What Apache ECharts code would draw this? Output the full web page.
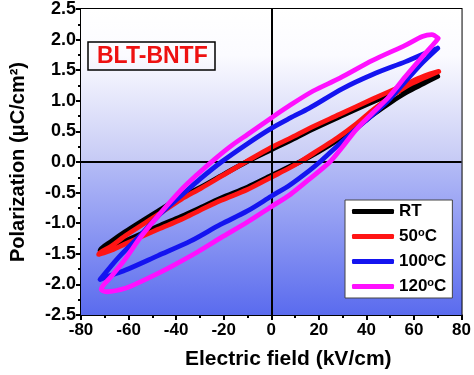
<!DOCTYPE html>
<html>
<head>
<meta charset="utf-8">
<script src="https://cdn.jsdelivr.net/npm/echarts@6/dist/echarts.min.js"></script>
<style>
  html, body { margin: 0; padding: 0; background: #fff; }
  #chart { width: 474px; height: 375px; }
</style>
</head>
<body>
<div id="chart"></div>
<script>
// P-E loops, each as upper branch (+tip -> -tip) then lower branch (-tip -> +tip)
const seriesNames = ["RT", "50°C", "100°C", "120°C"];
const seriesColors = ["#000000", "#ff1414", "#1414f0", "#ff10ff"];

const rtUpper = [[70,1.40],[64,1.31],[56.5,1.20],[42.6,0.98],[28.8,0.74],[16,0.51],[8,0.35],[0,0.20],[-10.5,0],[-20,-0.20],[-29.6,-0.41],[-37.9,-0.57],[-47.6,-0.80],[-61.5,-1.14],[-67,-1.29],[-72,-1.45]];
const rtLower = [[-72,-1.46],[-67,-1.38],[-61.5,-1.29],[-47.6,-1.05],[-37.9,-0.89],[-30,-0.75],[-21.3,-0.59],[-10,-0.41],[0,-0.22],[8,-0.07],[12,0],[20,0.17],[28,0.36],[36,0.57],[43,0.78],[50,0.97],[57,1.14],[64,1.28],[70,1.40]];

const t50Upper = [[70.4,1.48],[64,1.40],[56.5,1.27],[42.6,1.03],[28.8,0.78],[16,0.55],[8,0.39],[0,0.24],[-10.8,0],[-20,-0.21],[-29.6,-0.43],[-37.9,-0.61],[-47.6,-0.86],[-61.5,-1.21],[-67,-1.37],[-72.6,-1.51]];
const t50Lower = [[-72.6,-1.52],[-67,-1.44],[-61.5,-1.34],[-47.6,-1.10],[-37.9,-0.94],[-30,-0.79],[-21.3,-0.63],[-10,-0.45],[0,-0.25],[8,-0.09],[12,0],[20,0.20],[28,0.40],[36,0.63],[43,0.86],[50,1.06],[57,1.24],[64,1.37],[70.4,1.48]];

const t100Upper = [[70,1.86],[65,1.78],[56.5,1.64],[42.6,1.43],[30,1.20],[16,0.88],[8,0.72],[0,0.55],[-10,0.30],[-21,0],[-30,-0.28],[-37.9,-0.55],[-47,-0.86],[-54.6,-1.18],[-64,-1.55],[-72,-1.92]];
const t100Lower = [[-72,-1.92],[-68,-1.86],[-61.5,-1.77],[-47.6,-1.53],[-33.8,-1.29],[-21.3,-1.02],[-10,-0.80],[0,-0.56],[8,-0.37],[16,-0.14],[21,0.02],[28,0.27],[35.7,0.54],[42.6,0.77],[49.6,1.02],[56.5,1.32],[63.5,1.62],[70,1.86]];

const t120Upper = [[70.2,2.02],[67.5,2.08],[63.5,2.05],[56.5,1.91],[42.6,1.66],[28.8,1.37],[17.6,1.16],[8,0.93],[0,0.72],[-10,0.45],[-17,0.26],[-24,0.04],[-31,-0.20],[-38,-0.46],[-47.6,-0.88],[-54.6,-1.21],[-61.5,-1.59],[-67,-1.86],[-71.5,-2.08]];
const t120Lower = [[-71.5,-2.08],[-69,-2.12],[-61,-2.06],[-54.6,-1.95],[-47.6,-1.82],[-40.7,-1.68],[-31,-1.47],[-21.3,-1.24],[-10,-0.98],[0,-0.73],[8,-0.53],[16,-0.28],[24.6,0],[30,0.25],[35.7,0.53],[42.6,0.80],[49.6,1.07],[56.5,1.40],[63.5,1.72],[69,1.96],[70.2,2.02]];

const loops = [
  rtUpper.concat(rtLower),
  t50Upper.concat(t50Lower),
  t100Upper.concat(t100Lower),
  t120Upper.concat(t120Lower)
];

const xTicks = { min: -80, max: 80, step: 20 };
const yTicks = { min: -2.5, max: 2.5, step: 0.5 };

const font = 'Arial, "Liberation Sans", Helvetica, sans-serif';

const chart = echarts.init(document.getElementById("chart"));

const lineSeries = loops.map((d, i) => ({
  name: seriesNames[i],
  type: "line",
  data: d,
  symbol: "none",
  smooth: 0.3,
  z: 3 + i,
  lineStyle: { color: seriesColors[i], width: 4.8, cap: "round", join: "round" },
  itemStyle: { color: seriesColors[i] }
}));

// background bands and the zero lines
const bgSeries = {
  name: "bg",
  type: "line",
  data: [],
  silent: true,
  z: 1,
  markArea: {
    silent: true,
    data: [
      [
        { coord: [xTicks.min, 0], itemStyle: { color: new echarts.graphic.LinearGradient(0, 0, 0, 1, [
          { offset: 0, color: "#ffffff" },
          { offset: 0.3, color: "#fbfbff" },
          { offset: 1, color: "#c6caf5" }
        ]) } },
        { coord: [xTicks.max, yTicks.max] }
      ],
      [
        { coord: [xTicks.min, yTicks.min], itemStyle: { color: new echarts.graphic.LinearGradient(0, 0, 0, 1, [
          { offset: 0, color: "#b5bcf6" },
          { offset: 1, color: "#5a6bee" }
        ]) } },
        { coord: [xTicks.max, 0] }
      ]
    ]
  },
  markLine: {
    silent: true,
    symbol: "none",
    label: { show: false },
    lineStyle: { color: "#000", width: 2, type: "solid" },
    data: [{ xAxis: 0 }, { yAxis: 0 }]
  }
};

const option = {
  animation: false,
  backgroundColor: "#ffffff",
  textStyle: { fontFamily: font },
  grid: {
    left: 78, right: 12, top: 9, bottom: 59,
    show: true, borderColor: "#000", borderWidth: 2, backgroundColor: "transparent"
  },
  title: {
    text: "BLT-BNTF",
    left: 88, top: 42,
    padding: [3, 8, 2, 9],
    borderColor: "#000", borderWidth: 1.5,
    textStyle: { color: "#ee1111", fontSize: 23, fontWeight: "bold", fontFamily: font }
  },
  legend: {
    data: seriesNames,
    orient: "vertical",
    left: 345, top: 200,
    padding: [2, 6, 2, 7],
    itemWidth: 42, itemHeight: 5, itemGap: 6,
    icon: "roundRect",
    backgroundColor: "#ffffff",
    borderColor: "#444", borderWidth: 1,
    formatter: (name) => name.replace("°", "{s|o}"),
    textStyle: {
      fontFamily: font, fontSize: 17, fontWeight: "bold", color: "#000", lineHeight: 19,
      rich: {
        s: { fontFamily: font, fontSize: 11, fontWeight: "bold", color: "#000", verticalAlign: "top", lineHeight: 19 }
      }
    }
  },
  xAxis: {
    type: "value",
    min: xTicks.min, max: xTicks.max, interval: xTicks.step,
    name: "Electric field (kV/cm)",
    nameLocation: "middle", nameGap: 34,
    nameTextStyle: { fontFamily: font, fontSize: 21, fontWeight: "bold", color: "#000", padding: [0, 0, 0, 34] },
    axisLine: { show: true, onZero: false, lineStyle: { color: "#000", width: 2 } },
    axisTick: { show: true, inside: false, length: 5, lineStyle: { color: "#000", width: 2 } },
    minorTick: { show: true, splitNumber: 2, length: 3, lineStyle: { color: "#000", width: 2 } },
    axisLabel: { color: "#000", fontSize: 17, fontWeight: "bold", fontFamily: font, margin: 7 },
    splitLine: { show: false }
  },
  yAxis: {
    type: "value",
    min: yTicks.min, max: yTicks.max, interval: yTicks.step,
    name: "Polarization (μC/cm²)",
    nameLocation: "middle", nameGap: 53,
    nameTextStyle: { fontFamily: font, fontSize: 20, fontWeight: "bold", color: "#000" },
    axisLine: { show: true, onZero: false, lineStyle: { color: "#000", width: 2 } },
    axisTick: { show: true, inside: false, length: 5, lineStyle: { color: "#000", width: 2 } },
    minorTick: { show: true, splitNumber: 2, length: 3, lineStyle: { color: "#000", width: 2 } },
    axisLabel: { color: "#000", fontSize: 18, fontWeight: "bold", fontFamily: font, margin: 5,
      formatter: (v) => v.toFixed(1) },
    splitLine: { show: false }
  },
  series: [bgSeries].concat(lineSeries)
};

chart.setOption(option);
</script>
</body>
</html>
